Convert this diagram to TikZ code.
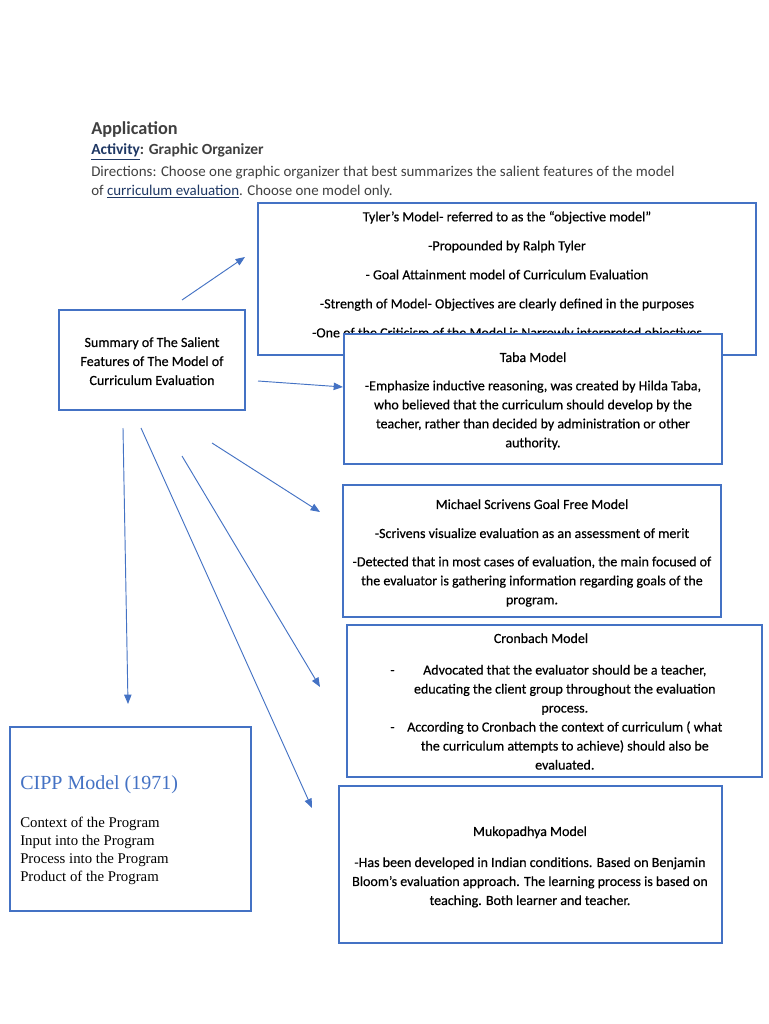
\documentclass[tikz,border=0pt]{standalone}
\usepackage{fontspec}
\setmainfont{Carlito}
\newfontfamily\boxfont{Carlito}[FakeBold=0.4]
\newfontfamily\timesf{Liberation Serif}
\usetikzlibrary{arrows.meta,fit}
\definecolor{boxblue}{HTML}{4472C4}
\definecolor{hdrgray}{HTML}{404040}
\definecolor{linkblue}{HTML}{1F3864}
\begin{document}
\begin{tikzpicture}[x=0.75pt,y=-0.75pt,
  box/.style={draw=boxblue,line width=0.9pt,fill=white,inner sep=0pt},
  txt/.style={font=\boxfont\fontsize{10.5}{14.25}\selectfont,align=center,inner sep=0pt,anchor=north,text=black},
  arr/.style={draw=boxblue,line width=0.7pt,-{Triangle[length=7pt,width=5.5pt]}}]
\useasboundingbox[fill=white] (0,0) rectangle (768,1024);

% header
\node[anchor=west,inner sep=0pt,text=hdrgray,font=\fontsize{13.7}{16}\selectfont\bfseries] (app) at (91,130) {Application};
\node[anchor=west,inner sep=0pt,font=\fontsize{11.6}{14}\selectfont\bfseries] (act) at (91,152)
  {\textcolor{linkblue}{\underline{Activity}}\textcolor{hdrgray}{: Graphic Organizer}};
\node[anchor=north west,inner sep=0pt,align=left,text=hdrgray,font=\fontsize{11.2}{14.25}\selectfont] (dir) at (91,166)
  {Directions: Choose one graphic organizer that best summarizes the salient features of the model\\
   of \textcolor{linkblue}{\underline{curriculum evaluation}}. Choose one model only.};

% Tyler
\node[box,fit={(258,203) (756,355)}] (tyler) {};
\node[txt] (tylert) at (507,211) {Tyler’s Model- referred to as the “objective model”\\[7.5pt]
  -Propounded by Ralph Tyler\\[7.5pt]
  - Goal Attainment model of Curriculum Evaluation\\[7.5pt]
  -Strength of Model- Objectives are clearly defined in the purposes\\[7.5pt]
  -One of the Criticism of the Model is Narrowly interpreted objectives};

% Summary
\node[box,fit={(59,310) (245,410)}] (sum) {};
\node[txt] (sumt) at (152,337) {Summary of The Salient\\Features of The Model of\\Curriculum Evaluation};

% Taba
\node[box,fit={(344,334) (722,464)}] (taba) {};
\node[txt] (tabat) at (533,352) {Taba Model\\[7pt]
  -Emphasize inductive reasoning, was created by Hilda Taba,\\
  who believed that the curriculum should develop by the\\
  teacher, rather than decided by administration or other\\
  authority.};

% Scriven
\node[box,fit={(343,485) (721,617)}] (scr) {};
\node[txt] (scrt) at (532,499) {Michael Scrivens Goal Free Model\\[7.5pt]
  -Scrivens visualize evaluation as an assessment of merit\\[7pt]
  -Detected that in most cases of evaluation, the main focused of\\
  the evaluator is gathering information regarding goals of the\\
  program.};

% Cronbach
\node[box,fit={(347,625) (762,777)}] (cron) {};
\node[txt] (cront) at (541,633) {Cronbach Model};
\node[txt,anchor=north west] (cronl) at (390,661) {\begin{tabular}{@{}l@{\hspace{9.5pt}}c@{}}
  - & Advocated that the evaluator should be a teacher,\\
    & educating the client group throughout the evaluation\\
    & process.\\
  - & According to Cronbach the context of curriculum ( what\\
    & the curriculum attempts to achieve) should also be\\
    & evaluated.
  \end{tabular}};

% CIPP
\node[box,fit={(10,727) (251,911)}] (cipp) {};
\node[anchor=west,inner sep=0pt,text=boxblue,font=\timesf\fontsize{15}{18}\selectfont] (cippt) at (20,785) {CIPP Model (1971)};
\node[anchor=north west,inner sep=0pt,align=left,font=\timesf\fontsize{11.1}{13.5}\selectfont] (cippl) at (20,817)
  {Context of the Program\\Input into the Program\\Process into the Program\\Product of the Program};

% Mukopadhya
\node[box,fit={(339,786) (722,943)}] (muk) {};
\node[txt] (mukt) at (530,826) {Mukopadhya Model\\[9pt]
  -Has been developed in Indian conditions. Based on Benjamin\\
  Bloom’s evaluation approach. The learning process is based on\\
  teaching. Both learner and teacher.};

% arrows
\coordinate (a1s) at (182,300); \coordinate (a1e) at (245,257);
\coordinate (a2s) at (258,381); \coordinate (a2e) at (343,387);
\coordinate (a3s) at (212,443); \coordinate (a3e) at (320,512);
\coordinate (a4s) at (182,456); \coordinate (a4e) at (320,687);
\coordinate (a5s) at (123,428); \coordinate (a5e) at (128,704);
\coordinate (a6s) at (141,428); \coordinate (a6e) at (312,808);
\draw[arr] (a1s) -- (a1e);
\draw[arr] (a2s) -- (a2e);
\draw[arr] (a3s) -- (a3e);
\draw[arr] (a4s) -- (a4e);
\draw[arr] (a5s) -- (a5e);
\draw[arr] (a6s) -- (a6e);
\end{tikzpicture}
\end{document}
